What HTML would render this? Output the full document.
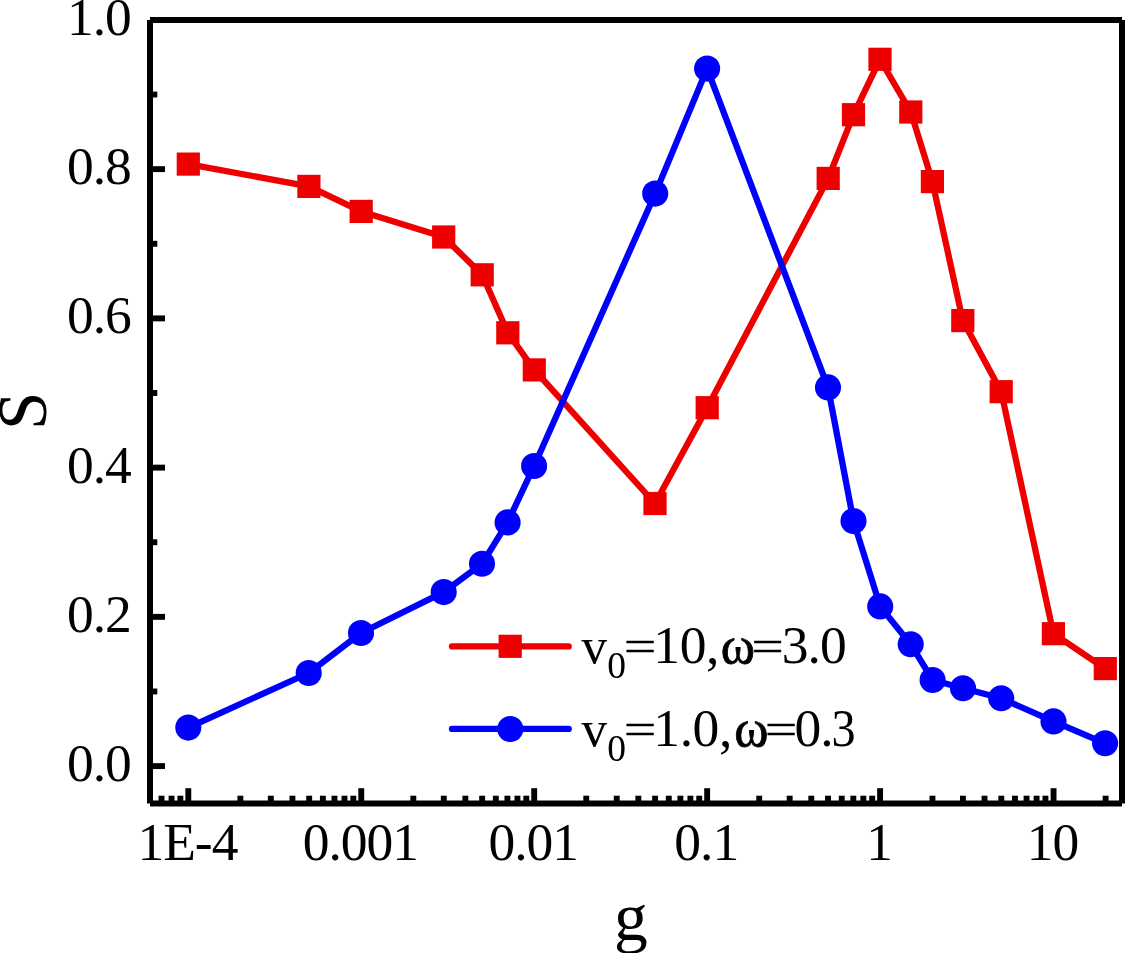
<!DOCTYPE html>
<html lang="en">
<head>
<meta charset="utf-8">
<title>S versus g</title>
<style>
html,body{margin:0;padding:0;background:#fff;}
body{width:1125px;height:953px;overflow:hidden;}
svg{display:block;}
text{font-family:"Liberation Serif","DejaVu Serif",serif;fill:#000;}
</style>
</head>
<body>
<svg width="1125" height="953" viewBox="0 0 1125 953">
<rect x="0" y="0" width="1125" height="953" fill="#ffffff"/>
<g stroke="#000" stroke-width="6.00" stroke-linecap="butt" fill="none">
<line x1="150.00" y1="19.90" x2="150.00" y2="803.50"/>
<line x1="1122.00" y1="19.90" x2="1122.00" y2="803.50"/>
<line x1="150.00" y1="19.90" x2="1122.00" y2="19.90"/>
<line x1="150.00" y1="803.50" x2="1122.00" y2="803.50"/>
</g>
<g stroke="#000" stroke-width="5.90" stroke-linecap="butt">
<line x1="150.00" y1="766.10" x2="165.00" y2="766.10"/>
<line x1="150.00" y1="691.48" x2="157.30" y2="691.48"/>
<line x1="150.00" y1="616.86" x2="165.00" y2="616.86"/>
<line x1="150.00" y1="542.24" x2="157.30" y2="542.24"/>
<line x1="150.00" y1="467.62" x2="165.00" y2="467.62"/>
<line x1="150.00" y1="393.00" x2="157.30" y2="393.00"/>
<line x1="150.00" y1="318.38" x2="165.00" y2="318.38"/>
<line x1="150.00" y1="243.76" x2="157.30" y2="243.76"/>
<line x1="150.00" y1="169.14" x2="165.00" y2="169.14"/>
<line x1="150.00" y1="94.52" x2="157.30" y2="94.52"/>
<line x1="161.51" y1="803.50" x2="161.51" y2="795.70"/>
<line x1="171.54" y1="803.50" x2="171.54" y2="795.70"/>
<line x1="180.39" y1="803.50" x2="180.39" y2="795.70"/>
<line x1="188.30" y1="803.50" x2="188.30" y2="788.20"/>
<line x1="240.36" y1="803.50" x2="240.36" y2="795.70"/>
<line x1="270.82" y1="803.50" x2="270.82" y2="795.70"/>
<line x1="292.43" y1="803.50" x2="292.43" y2="795.70"/>
<line x1="309.19" y1="803.50" x2="309.19" y2="795.70"/>
<line x1="322.88" y1="803.50" x2="322.88" y2="795.70"/>
<line x1="334.46" y1="803.50" x2="334.46" y2="795.70"/>
<line x1="344.49" y1="803.50" x2="344.49" y2="795.70"/>
<line x1="353.34" y1="803.50" x2="353.34" y2="795.70"/>
<line x1="361.25" y1="803.50" x2="361.25" y2="788.20"/>
<line x1="413.31" y1="803.50" x2="413.31" y2="795.70"/>
<line x1="443.77" y1="803.50" x2="443.77" y2="795.70"/>
<line x1="465.38" y1="803.50" x2="465.38" y2="795.70"/>
<line x1="482.14" y1="803.50" x2="482.14" y2="795.70"/>
<line x1="495.83" y1="803.50" x2="495.83" y2="795.70"/>
<line x1="507.41" y1="803.50" x2="507.41" y2="795.70"/>
<line x1="517.44" y1="803.50" x2="517.44" y2="795.70"/>
<line x1="526.29" y1="803.50" x2="526.29" y2="795.70"/>
<line x1="534.20" y1="803.50" x2="534.20" y2="788.20"/>
<line x1="586.26" y1="803.50" x2="586.26" y2="795.70"/>
<line x1="616.72" y1="803.50" x2="616.72" y2="795.70"/>
<line x1="638.33" y1="803.50" x2="638.33" y2="795.70"/>
<line x1="655.09" y1="803.50" x2="655.09" y2="795.70"/>
<line x1="668.78" y1="803.50" x2="668.78" y2="795.70"/>
<line x1="680.36" y1="803.50" x2="680.36" y2="795.70"/>
<line x1="690.39" y1="803.50" x2="690.39" y2="795.70"/>
<line x1="699.24" y1="803.50" x2="699.24" y2="795.70"/>
<line x1="707.15" y1="803.50" x2="707.15" y2="788.20"/>
<line x1="759.21" y1="803.50" x2="759.21" y2="795.70"/>
<line x1="789.67" y1="803.50" x2="789.67" y2="795.70"/>
<line x1="811.28" y1="803.50" x2="811.28" y2="795.70"/>
<line x1="828.04" y1="803.50" x2="828.04" y2="795.70"/>
<line x1="841.73" y1="803.50" x2="841.73" y2="795.70"/>
<line x1="853.31" y1="803.50" x2="853.31" y2="795.70"/>
<line x1="863.34" y1="803.50" x2="863.34" y2="795.70"/>
<line x1="872.19" y1="803.50" x2="872.19" y2="795.70"/>
<line x1="880.10" y1="803.50" x2="880.10" y2="788.20"/>
<line x1="932.46" y1="803.50" x2="932.46" y2="795.70"/>
<line x1="962.92" y1="803.50" x2="962.92" y2="795.70"/>
<line x1="984.53" y1="803.50" x2="984.53" y2="795.70"/>
<line x1="1001.29" y1="803.50" x2="1001.29" y2="795.70"/>
<line x1="1014.98" y1="803.50" x2="1014.98" y2="795.70"/>
<line x1="1026.56" y1="803.50" x2="1026.56" y2="795.70"/>
<line x1="1036.59" y1="803.50" x2="1036.59" y2="795.70"/>
<line x1="1045.44" y1="803.50" x2="1045.44" y2="795.70"/>
<line x1="1053.55" y1="803.50" x2="1053.55" y2="788.20"/>
<line x1="1105.61" y1="803.50" x2="1105.61" y2="795.70"/>
</g>
<polyline points="188.3,164.1 308.9,186.4 361.2,211.4 443.7,237.0 482.2,274.8 507.8,332.8 534.3,369.9 655.0,503.5 707.2,407.7 828.2,178.4 853.5,114.7 880.0,59.3 910.8,112.0 932.4,181.6 962.8,320.6 1001.2,391.7 1053.4,633.7 1105.3,668.6" fill="none" stroke="#EE0000" stroke-width="6.30" stroke-linejoin="round" stroke-linecap="round"/>
<g fill="#EE0000">
<rect x="176.70" y="152.50" width="23.20" height="23.20"/>
<rect x="297.30" y="174.80" width="23.20" height="23.20"/>
<rect x="349.60" y="199.80" width="23.20" height="23.20"/>
<rect x="432.10" y="225.40" width="23.20" height="23.20"/>
<rect x="470.60" y="263.20" width="23.20" height="23.20"/>
<rect x="496.20" y="321.20" width="23.20" height="23.20"/>
<rect x="522.70" y="358.30" width="23.20" height="23.20"/>
<rect x="643.40" y="491.90" width="23.20" height="23.20"/>
<rect x="695.60" y="396.10" width="23.20" height="23.20"/>
<rect x="816.60" y="166.80" width="23.20" height="23.20"/>
<rect x="841.90" y="103.10" width="23.20" height="23.20"/>
<rect x="868.40" y="47.70" width="23.20" height="23.20"/>
<rect x="899.20" y="100.40" width="23.20" height="23.20"/>
<rect x="920.80" y="170.00" width="23.20" height="23.20"/>
<rect x="951.20" y="309.00" width="23.20" height="23.20"/>
<rect x="989.60" y="380.10" width="23.20" height="23.20"/>
<rect x="1041.80" y="622.10" width="23.20" height="23.20"/>
<rect x="1093.70" y="657.00" width="23.20" height="23.20"/>
</g>
<polyline points="188.3,727.6 308.7,673.0 361.0,633.0 443.7,592.1 482.0,563.8 507.6,522.4 534.1,466.0 655.2,193.6 707.1,68.6 828.0,387.4 853.5,521.1 880.2,606.4 910.7,644.2 932.6,680.0 963.0,688.2 1001.2,698.3 1053.5,721.4 1105.1,743.3" fill="none" stroke="#0000FF" stroke-width="6.30" stroke-linejoin="round" stroke-linecap="round"/>
<g fill="#0000FF">
<circle cx="188.30" cy="727.60" r="13.05"/>
<circle cx="308.70" cy="673.00" r="13.05"/>
<circle cx="361.00" cy="633.00" r="13.05"/>
<circle cx="443.70" cy="592.10" r="13.05"/>
<circle cx="482.00" cy="563.80" r="13.05"/>
<circle cx="507.60" cy="522.40" r="13.05"/>
<circle cx="534.10" cy="466.00" r="13.05"/>
<circle cx="655.20" cy="193.60" r="13.05"/>
<circle cx="707.10" cy="68.60" r="13.05"/>
<circle cx="828.00" cy="387.40" r="13.05"/>
<circle cx="853.50" cy="521.10" r="13.05"/>
<circle cx="880.20" cy="606.40" r="13.05"/>
<circle cx="910.70" cy="644.20" r="13.05"/>
<circle cx="932.60" cy="680.00" r="13.05"/>
<circle cx="963.00" cy="688.20" r="13.05"/>
<circle cx="1001.20" cy="698.30" r="13.05"/>
<circle cx="1053.50" cy="721.40" r="13.05"/>
<circle cx="1105.10" cy="743.30" r="13.05"/>
</g>
<line x1="452" y1="646.4" x2="568.7" y2="646.4" stroke="#EE0000" stroke-width="6.30" stroke-linecap="round"/>
<rect x="498.60" y="634.70" width="23.20" height="23.20" fill="#EE0000"/>
<line x1="452" y1="728.9" x2="568.7" y2="728.9" stroke="#0000FF" stroke-width="6.30" stroke-linecap="round"/>
<circle cx="510.3" cy="729" r="13.05" fill="#0000FF"/>
<text y="663.3" font-size="52"><tspan x="581.50" y="663.30" font-size="51.0">v</tspan><tspan x="607.30" y="678.30" font-size="37.5">0</tspan><tspan x="623.90" y="659.90" font-size="42.0" stroke="#000" stroke-width="0.50" textLength="32.1" lengthAdjust="spacingAndGlyphs">=</tspan><tspan x="653.30" y="663.30" font-size="53.5" letter-spacing="-0.40">10,</tspan><tspan x="720.80" y="663.30" font-size="52.0" stroke="#000" stroke-width="0.80">ω</tspan><tspan x="751.50" y="659.90" font-size="42.0" stroke="#000" stroke-width="0.50" textLength="32.1" lengthAdjust="spacingAndGlyphs">=</tspan><tspan x="781.75" y="663.30" font-size="53.5" letter-spacing="-1.00">3.0</tspan></text>
<text y="746.0" font-size="52"><tspan x="581.50" y="746.00" font-size="51.0">v</tspan><tspan x="607.30" y="761.00" font-size="37.5">0</tspan><tspan x="623.90" y="742.60" font-size="42.0" stroke="#000" stroke-width="0.50" textLength="32.1" lengthAdjust="spacingAndGlyphs">=</tspan><tspan x="653.30" y="746.00" font-size="53.5" letter-spacing="-0.40">1.0,</tspan><tspan x="734.30" y="746.00" font-size="52.0" stroke="#000" stroke-width="0.80">ω</tspan><tspan x="764.90" y="742.60" font-size="42.0" stroke="#000" stroke-width="0.50" textLength="32.1" lengthAdjust="spacingAndGlyphs">=</tspan><tspan x="794.60" y="746.00" font-size="53.5" letter-spacing="-1.00">0.</tspan><tspan x="831.60" y="746.00" font-size="53.5" textLength="24.1" lengthAdjust="spacingAndGlyphs">3</tspan></text>
<text x="130.8" y="781.0" font-size="53.5" letter-spacing="-1" text-anchor="end">0.0</text>
<text x="130.8" y="631.8" font-size="53.5" letter-spacing="-1" text-anchor="end">0.2</text>
<text x="130.8" y="482.5" font-size="53.5" letter-spacing="-1" text-anchor="end">0.4</text>
<text x="130.8" y="333.3" font-size="53.5" letter-spacing="-1" text-anchor="end">0.6</text>
<text x="130.8" y="184.0" font-size="53.5" letter-spacing="-1" text-anchor="end">0.8</text>
<text x="130.8" y="34.8" font-size="53.5" letter-spacing="-1" text-anchor="end">1.0</text>
<text x="187.4" y="860.3" font-size="53.5" letter-spacing="-1" text-anchor="middle">1E-4</text>
<text x="360.4" y="860.3" font-size="53.5" letter-spacing="-1" text-anchor="middle">0.001</text>
<text x="533.3" y="860.3" font-size="53.5" letter-spacing="-1" text-anchor="middle">0.01</text>
<text x="706.2" y="860.3" font-size="53.5" letter-spacing="-1" text-anchor="middle">0.1</text>
<text x="879.2" y="860.3" font-size="53.5" letter-spacing="-1" text-anchor="middle">1</text>
<text x="1052.6" y="860.3" font-size="53.5" letter-spacing="-1" text-anchor="middle">10</text>
<text x="630.9" y="939.9" font-size="67.5" text-anchor="middle">g</text>
<text transform="translate(46.4,410.9) rotate(-90)" font-size="69" text-anchor="middle">S</text>
</svg>
</body>
</html>
